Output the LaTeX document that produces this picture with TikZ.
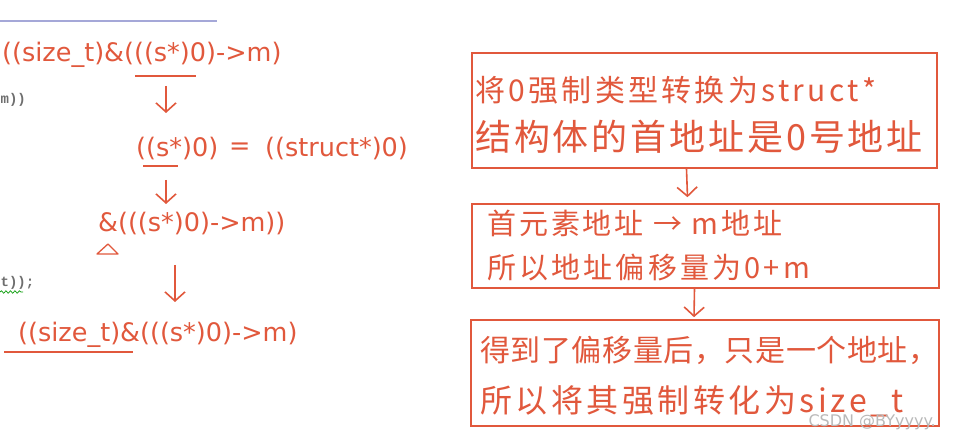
\documentclass[tikz,border=0pt]{standalone}
\usepackage{fontspec}
\setmainfont{DejaVu Sans}
\newfontfamily\hand{Noto Sans CJK SC}
\newfontfamily\codefont{Liberation Mono}
\usetikzlibrary{arrows.meta,decorations.pathmorphing}
\definecolor{ink}{RGB}{225,88,60}
\definecolor{rule}{RGB}{165,168,216}
\definecolor{codegray}{RGB}{110,110,110}
\definecolor{wm}{RGB}{185,185,185}
\tikzset{
  formula/.style={anchor=base west, inner sep=0pt, text=ink, font=\fontsize{25.5}{30}\selectfont},
  handtext/.style={anchor=west, inner sep=0pt, text=ink},
  codetext/.style={anchor=west, inner sep=0pt, text=codegray, font=\codefont\bfseries\fontsize{14}{16}\selectfont},
  stepbox/.style={draw=ink, line width=1.6pt, inner sep=0pt},
  harrow/.style={draw=ink, line width=1.6pt, -{Straight Barb[length=9pt,width=20pt,line width=1.6pt]}},
  uline/.style={draw=ink, line width=1.6pt},
}
\begin{document}
\begin{tikzpicture}[x=1pt,y=-1pt]
\useasboundingbox[fill=white] (0,0) rectangle (954,438);
% top rule
\draw[rule, line width=1.2pt] (0,21) -- (217,21);
% gray code fragments
\node[codetext] (c1) at (0.5,100) {m))};
\node[codetext] (c2) at (0.5,283) {t));};
\draw[green!60!black, line width=0.7pt, decorate, decoration={snake, amplitude=1.2pt, segment length=4.5pt}] (0,292) -- (23,292);

% left formulas
\node[formula] (f1) at (2,62) {((size\_t)\&(((s*)0)->m)};
\draw[uline] (135,76) -- (196,76);
\coordinate (a1s) at (166,86);
\coordinate (a1e) at (166,113);
\draw[harrow] (a1s) -- (a1e);

\node[formula] (f2) at (136,157) {((s*)0)};
\node[formula] (eq) at (229,155) {=};
\node[formula] (f2b) at (265,157) {((struct*)0)};
\draw[uline] (143,166) -- (178,166);
\coordinate (a2s) at (166,180);
\coordinate (a2e) at (166,204);
\draw[harrow] (a2s) -- (a2e);

\node[formula] (f3) at (98,232) {\&(((s*)0)->m))};
\draw[ink, line width=1.3pt, line join=round] (97,254) -- (108,244) -- (118,254) -- cycle;
\coordinate (a3s) at (175,265);
\coordinate (a3e) at (175,302);
\draw[harrow] (a3s) -- (a3e);

\node[formula] (f4) at (18,342) {((size\_t)\&(((s*)0)->m)};
\draw[uline] (4,352) -- (133,352);

% right boxes
\node[stepbox, minimum width=465pt, minimum height=115pt] (b1) at (704.5,110.5) {};
\node[stepbox, minimum width=467pt, minimum height=84pt] (b2) at (705.5,246) {};
\node[stepbox, minimum width=468pt, minimum height=106pt] (b3) at (705,373) {};

\node[handtext, font=\hand\fontsize{30}{32}\selectfont\addfontfeature{LetterSpace=11}] (t11) at (475,90) {将0强制类型转换为struct*};
\node[handtext, font=\hand\fontsize{36}{38}\selectfont\addfontfeature{LetterSpace=8}] (t12) at (475,137) {结构体的首地址是0号地址};

\node[handtext, font=\hand\fontsize{29}{31}\selectfont\addfontfeature{LetterSpace=10}] (t21) at (487,223) {首元素地址 → m地址};
\node[handtext, font=\hand\fontsize{29}{31}\selectfont\addfontfeature{LetterSpace=11}] (t22) at (487,268) {所以地址偏移量为0+m};

\node[handtext, font=\hand\fontsize{30}{32}\selectfont\addfontfeature{LetterSpace=2}] (t31) at (480,350) {得到了偏移量后，只是一个地址，};
\node[handtext, font=\hand\fontsize{32}{34}\selectfont\addfontfeature{LetterSpace=11}] (t32) at (480,401) {所以将其强制转化为size\_t};

\draw[harrow] ([xshift=-18pt]b1.south) -- ([xshift=-18pt,yshift=6pt]b2.north);
\draw[harrow] ([xshift=-11pt]b2.south) -- ([xshift=-11pt,yshift=2pt]b3.north);

% watermark
\node[anchor=base east, inner sep=0pt, text=wm, font=\fontsize{16}{18}\selectfont] (wmk) at (936,427) {CSDN @BYyyyy.};
\end{tikzpicture}
\end{document}
